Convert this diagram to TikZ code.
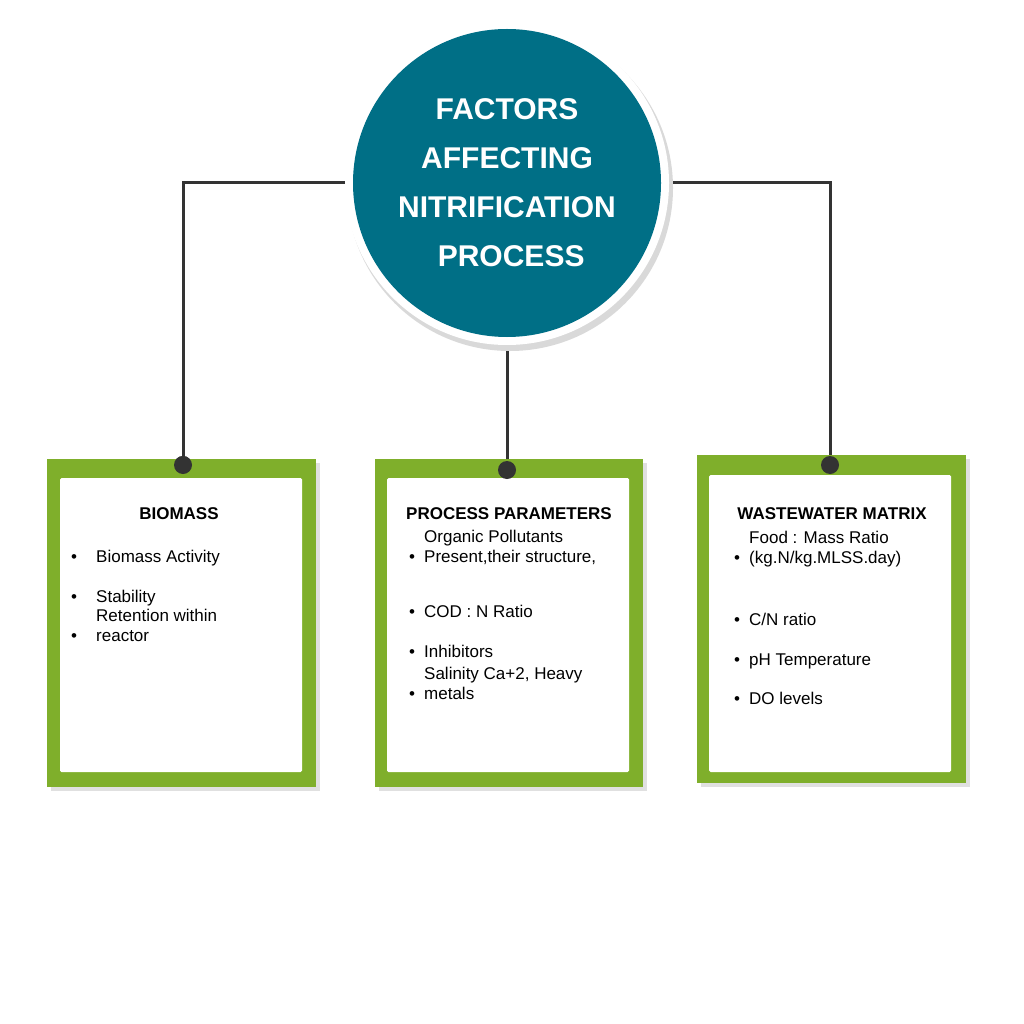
\documentclass[tikz,border=0pt]{standalone}
\usepackage{fontspec}
\setmainfont{Liberation Sans}
\begin{document}
\begin{tikzpicture}[x=1pt,y=-1pt,
  conn/.style={draw=black!80,line width=3pt},
  dot/.style={circle,fill=black!80,minimum size=18pt,inner sep=0pt},
  outer/.style={fill=green!50!black!40!yellow!80!green,fill=gbox},
  inner/.style={fill=white,rounded corners=1.5pt},
  ttl/.style={font=\bfseries\fontsize{17}{20}\selectfont,anchor=base},
  itm/.style={font=\fontsize{17}{20}\selectfont,anchor=base west,align=left,inner sep=0pt},
  bul/.style={font=\fontsize{17}{20}\selectfont,anchor=base,inner sep=0pt}]
\definecolor{gbox}{HTML}{7FAF2B}
\definecolor{teal}{HTML}{006F86}
\useasboundingbox (0,0) rectangle (1024,1024);
% connectors
\coordinate (l) at (183,183); \coordinate (r) at (830,183);
\node[dot] (d1) at (183,465) {};
\node[dot] (d2) at (507,470) {};
\node[dot] (d3) at (830,465) {};
\draw[conn] (345,183) -- (l) -- (d1.center);
\draw[conn] (668,183) -- (r) -- (d3.center);
\draw[conn] (507,340) -- (d2.center);
% circle
\fill[black!15] (510,188) circle (163);
\node[circle,fill=white,minimum size=324pt,inner sep=0pt] (ring) at (507,183) {};
\node[circle,fill=teal,minimum size=308pt,inner sep=0pt,text=white,align=center,
  font=\bfseries\fontsize{30}{49}\selectfont] (c) at (507,183) {FACTORS\\AFFECTING\\NITRIFICATION\\\ PROCESS};
% boxes
\fill[black!12] (51,463) rectangle (320,791);
\fill[gbox] (47,459) rectangle (316,787);
\fill[inner] (60,478) rectangle (302,772);
\fill[black!12] (379,463) rectangle (647,791);
\fill[gbox] (375,459) rectangle (643,787);
\fill[inner] (387,478) rectangle (629,772);
\fill[black!12] (701,459) rectangle (970,787);
\fill[gbox] (697,455) rectangle (966,783);
\fill[inner] (709,475) rectangle (951,772);
\node[dot] at (183,465) {};
\node[dot] at (507,470) {};
\node[dot] at (830,465) {};
% box 1
\node[ttl] (t1) at (179,519) {BIOMASS};
\foreach \y/\t in {562/{Biomass Activity},602/{Stability},641/{Retention within\\reactor}}{
  \node[bul] at (74,\y) {•}; \node[itm] at (96,\y) {\t};}
% box 2
\node[ttl] (t2) at (509,519) {PROCESS PARAMETERS};
\foreach \y/\t in {562/{Organic Pollutants\\Present,their structure,},617/{COD : N Ratio},657/{Inhibitors},699/{Salinity Ca+2, Heavy\\metals}}{
  \node[bul] at (412,\y) {•}; \node[itm] at (424,\y) {\t};}
% box 3
\node[ttl] (t3) at (832,519) {WASTEWATER MATRIX};
\foreach \y/\t in {563/{Food : Mass Ratio\\(kg.N/kg.MLSS.day)},625/{C/N ratio},665/{pH Temperature},704/{DO levels}}{
  \node[bul] at (737,\y) {•}; \node[itm] at (749,\y) {\t};}
\end{tikzpicture}
\end{document}
